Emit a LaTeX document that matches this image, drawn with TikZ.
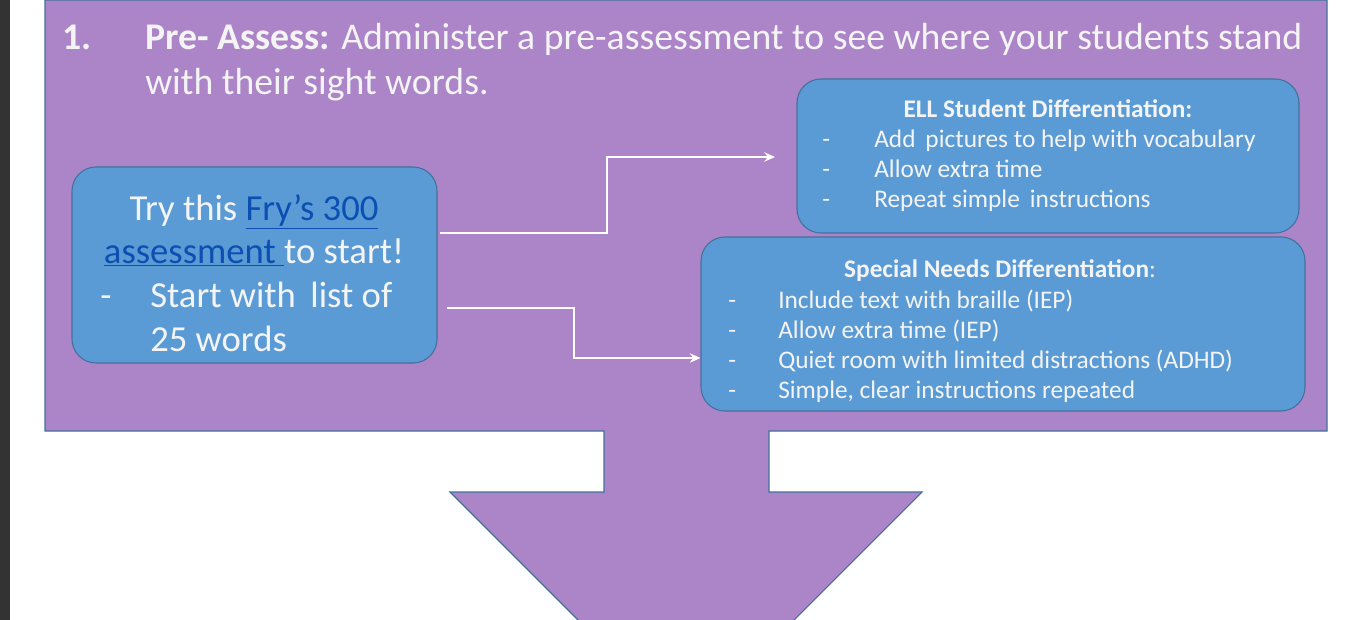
\documentclass[tikz,border=0pt]{standalone}
\usepackage{fontspec}
\setmainfont{Carlito}
\usetikzlibrary{arrows.meta}
\definecolor{purp}{HTML}{AC84C8}
\definecolor{bbox}{HTML}{5B9BD5}
\definecolor{bedge}{HTML}{41719C}
\definecolor{lnk}{HTML}{0B4FB3}
\definecolor{wt}{HTML}{F4F4F4}
\begin{document}
\begin{tikzpicture}[x=0.75pt,y=-0.75pt,
  box/.style={draw=bedge,fill=bbox,rounded corners=18pt,line width=0.8pt},
  conn/.style={draw=white,line width=1.4pt,-{Stealth[length=8pt,width=7pt]}},
  t/.style={anchor=base west,inner sep=0,text=wt},
  s/.style={anchor=base west,inner sep=0,text=wt,font=\fontsize{19}{22}\selectfont}]
\useasboundingbox (0,0) rectangle (1358,620);
\fill[white] (0,0) rectangle (1358,620);
\fill[black!80] (0,0) rectangle (10,620);
\begin{scope}
\clip (0,0) rectangle (1358,620);
\path[fill=purp,draw=bedge,line width=0.8pt] (45,0) -- (1327,0) -- (1327,431) -- (769,431) -- (769,492) -- (922,492) -- (686,728) -- (450,492) -- (604,492) -- (604,431) -- (45,431) -- cycle;
\end{scope}
\node[t,font=\fontsize{28.3}{32}\selectfont\bfseries] (n1) at (62,50) {1.};
\node[t,font=\fontsize{28.3}{32}\selectfont] (l1) at (145,50) {\textbf{Pre- Assess:} Administer a pre-assessment to see where your students stand};
\node[t,font=\fontsize{28.3}{32}\selectfont] (l2) at (145,95) {with their sight words.};
\node[box,minimum width=365pt*0.75,minimum height=196pt*0.75] (L) at (254.5,265) {};
\node[box,minimum width=502pt*0.75,minimum height=154pt*0.75] (E) at (1048,156) {};
\node[box,minimum width=604pt*0.75,minimum height=174pt*0.75] (S) at (1003,324) {};
\begin{scope}[font=\fontsize{27.5}{30}\selectfont]
\node[anchor=base,inner sep=0,text=wt] (a1) at (254,220) {Try this \textcolor{lnk}{\underline{Fry’s 300}}};
\node[anchor=base,inner sep=0,text=wt] (a2) at (254,263) {\textcolor{lnk}{\underline{assessment }}to start!};
\node[t] (a3) at (100,307) {-};
\node[t] (a4) at (150,307) {Start with\, list of};
\node[t] (a5) at (150,351) {25 words};
\end{scope}
\node[anchor=base,inner sep=0,text=wt,font=\fontsize{19}{22}\selectfont\bfseries] (e0) at (1048,118) {ELL Student Differentiation:};
\foreach \y/\txt [count=\i] in {148/{Add\, pictures to help with vocabulary},178/{Allow extra time},208/{Repeat simple\, instructions}}{
  \node[s] (ed\i) at (822,\y) {-};
  \node[s] (e\i) at (874,\y) {\txt};}
\node[anchor=base,inner sep=0,text=wt,font=\fontsize{19}{22}\selectfont] (s0) at (1000,277) {\textbf{Special Needs Differentiation}:};
\foreach \y/\txt [count=\i] in {308/{Include text with braille (IEP)},338/{Allow extra time (IEP)},368/{Quiet room with limited distractions (ADHD)},398/{Simple, clear instructions repeated}}{
  \node[s] (sd\i) at (728,\y) {-};
  \node[s] (s\i) at (778,\y) {\txt};}
\coordinate (c1) at (440,233);
\coordinate (c2) at (447,308);
\draw[conn] (c1) -- (607,233) -- (607,157) -- (775,157);
\draw[conn] (c2) -- (574,308) -- (574,358) -- (S.west|-0,358);
\end{tikzpicture}
\end{document}
